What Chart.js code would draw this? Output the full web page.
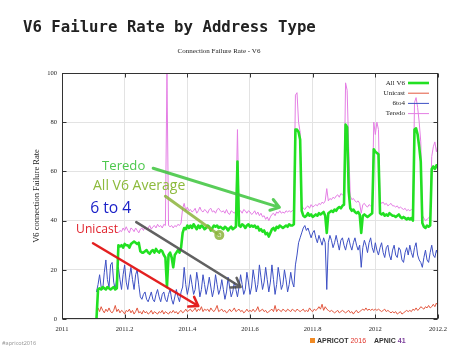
<!DOCTYPE html>
<html>
<head>
<meta charset="utf-8">
<script src="https://cdn.jsdelivr.net/npm/chart.js@4/dist/chart.umd.min.js"></script>
<style>
  html, body { margin: 0; padding: 0; background: #fff; }
  #slide { position: relative; width: 474px; height: 355px; overflow: hidden; }
  #chart { position: absolute; left: 0; top: 0; }
  h1 { position: absolute; left: 23px; top: 19px; margin: 0; font: bold 15.7px "DejaVu Sans Mono", monospace; line-height: 1; color: #222; white-space: nowrap; }
  .tag { position: absolute; left: 2px; top: 339px; font: 5.5px "Noto Sans", sans-serif; color: #999; }
  .logo { position: absolute; top: 337px; font: bold 7px "Liberation Sans", sans-serif; color: #333; white-space: nowrap; }
  .logo .dot { display: inline-block; width: 5px; height: 5px; background: #f08a24; margin-right: 2px; }
</style>
</head>
<body>
<div id="slide">
  <canvas id="chart" width="474" height="355"></canvas>
  <h1>V6 Failure Rate by Address Type</h1>
  <div class="tag">#apricot2016</div>
  <div class="logo" style="left:310px"><span class="dot"></span>APRICOT <span style="color:#e0352b;font-weight:normal">2016</span></div>
  <div class="logo" style="left:374px">APNIC <span style="color:#7a3d9a">41</span></div>
</div>
<script>
// samples every ~1.8 days from 2011.11 to 2012.20
const firstDay = 2011.11;
const dayStep = 0.005;

const allV6 = [
  0, 12, 12.5, 12, 13, 12.5, 12, 13, 12.5, 12,
  12.5, 13, 12, 12.5, 30, 29.5, 30, 29, 30.5, 30,
  30, 29, 30.5, 31, 31.5, 31, 30.5, 31, 27.5, 27,
  27, 27.5, 28, 27, 26.5, 27.5, 28, 27, 28.5, 27.5,
  27, 28, 27.5, 26, 25, 13, 26, 27, 25, 21,
  26, 27, 28, 27, 29, 35, 37, 36.5, 38, 37,
  38, 37, 38.5, 37.5, 36.5, 38, 37, 38, 37.5, 36.5,
  37, 38, 37.5, 36, 37, 38, 37.5, 38, 37, 37.5,
  37, 36.5, 37.5, 37, 36, 37, 37.5, 36.5, 37, 37.5,
  64, 38, 37.5, 38.5, 38, 37, 38, 38.5, 37.5, 38,
  37.5, 38, 37, 37.5, 36, 36.5, 35.5, 36, 34.5, 35,
  33.5, 35, 36.5, 37, 36, 37.5, 37, 38, 37.5, 37,
  37.5, 38, 37.5, 38.5, 38, 38, 38.5, 77, 77, 76,
  73, 44, 42, 41.5, 42, 43, 42, 42.5, 41.5, 42,
  42.5, 42, 43, 42.5, 43, 43.5, 42, 35, 43, 43.5,
  44, 43.5, 44.5, 44, 45, 45.5, 45, 46, 46.5, 79,
  78, 52, 45, 44, 44.5, 43.5, 43, 43.5, 42.5, 35,
  42, 42.5, 42, 41.5, 42, 42.5, 43, 69, 68, 67.5,
  67, 43, 42.5, 43, 42, 42.5, 42, 43, 42.5, 42,
  42, 41.5, 42, 42.5, 41.5, 41, 41.5, 41, 40.5, 41,
  40.5, 41, 40, 77, 77.5, 75, 70, 64, 39, 37.5,
  37, 38, 37.5, 38, 61, 62, 61, 62.5, 61.5
];

const unicast = [
  3.5, 4.5, 3, 5, 3.5, 2.5, 4, 3, 4.5, 3,
  2.5, 3.5, 5.5, 3, 4, 2.5, 3.5, 3, 2, 3.5,
  3, 4, 2.5, 3.5, 2, 3, 4.5, 2.5, 3, 2,
  3.5, 2.5, 3, 2, 2.5, 3.5, 2, 3, 2.5, 2,
  3, 2.5, 3.5, 2, 3, 2.5, 2, 3, 2.5, 3.5,
  2.5, 3, 2, 3, 3.5, 2.5, 3, 4, 3, 3.5,
  4, 3, 3.5, 4.5, 3, 4, 3.5, 5, 3, 4,
  3.5, 4, 3, 4.5, 3.5, 3, 4, 5.5, 3, 3.5,
  4, 3, 3.5, 2.5, 3, 4, 3, 3.5, 4.5, 3,
  3.5, 4, 3, 3.5, 2.5, 3, 4, 3, 3.5, 3,
  4, 3, 3.5, 5, 3, 3.5, 4, 3, 3.5, 2.5,
  3, 3.5, 4, 3, 5.5, 3, 4, 3.5, 3, 4,
  3.5, 3, 4, 3.5, 3, 4, 3.5, 3, 4, 3.5,
  3, 3.5, 4, 3, 3.5, 3, 4.5, 3.5, 3, 4,
  3.5, 4, 5, 4, 6, 3.5, 5, 4, 3.5, 3,
  3.5, 3, 2.5, 3, 3.5, 2.5, 3, 3.5, 3, 2.5,
  3, 3.5, 2.5, 3, 2, 3, 3.5, 2.5, 3, 3.5,
  4, 3.5, 4.5, 3.5, 4, 3.5, 4, 3.5, 4, 3.5,
  4, 3.5, 3, 3.5, 4, 3, 3.5, 3, 2.5, 3,
  2.5, 3, 2, 2.5, 3, 2, 2.5, 3, 3.5, 3,
  3.5, 3, 4, 3.5, 4.5, 3.5, 4, 5, 4.5, 4,
  5, 4.5, 5.5, 4.5, 5, 6, 5, 6.5, 5.5
];

const sixToFour = [
  11, 14, 18, 13, 12, 19, 24, 16, 13, 22,
  23, 15, 12, 17, 21, 16, 12, 18, 22, 15,
  12, 17, 21, 16, 12, 18, 20, 14, 9, 8,
  10, 11, 8, 7, 9, 11, 8, 7, 10, 12,
  9, 7, 10, 11, 8, 7, 10, 12, 8, 6,
  9, 12, 9, 7, 11, 13, 21, 14, 10, 13,
  18, 14, 10, 12, 19, 15, 9, 12, 18, 14,
  10, 13, 17, 13, 9, 12, 18, 14, 10, 12,
  16, 12, 8, 11, 17, 13, 9, 11, 15, 12,
  9, 13, 18, 14, 10, 12, 19, 15, 10, 13,
  20, 16, 11, 14, 22, 17, 12, 15, 21, 16,
  11, 15, 22, 16, 10, 14, 21, 17, 12, 14,
  20, 16, 11, 14, 19, 15, 13, 22, 26, 31,
  33, 35, 37, 38, 36, 37, 35, 33, 35, 36,
  33, 31, 34, 32, 30, 33, 31, 12, 31, 34,
  32, 29, 31, 34, 31, 28, 32, 33, 30, 28,
  31, 33, 30, 28, 31, 33, 30, 28, 30, 21,
  29, 32, 30, 27, 31, 33, 29, 27, 31, 28,
  26, 29, 31, 27, 25, 29, 30, 26, 24, 28,
  30, 26, 25, 29, 28, 24, 23, 27, 29, 26,
  30, 27, 25, 29, 31, 26, 24, 23, 21, 25,
  28, 24, 23, 27, 30, 26, 25, 28, 26
];

const teredo = [
  null, null, null, null, null, null, null, null, null, null,
  null, null, null, null, 35, 36, 35.5, 37, 36, 37.5,
  36, 35, 37, 36.5, 35.5, 37, 36, 35, 36.5, 37,
  36, 37.5, 36.5, 37, 38, 36.5, 37.5, 38, 37, 38.5,
  37.5, 38, 37, 38.5, 38, 100, 38, 37.5, 38, 37,
  38, 37.5, 38.5, 38, 39, 45, 47, 44, 45.5, 44,
  44.5, 43.5, 44, 45, 43, 44, 45.5, 44, 43.5, 44.5,
  44, 43, 44.5, 45, 43.5, 44, 43, 44.5, 45, 44,
  43.5, 44, 43, 44.5, 43, 42.5, 44, 43.5, 43, 44,
  77, 43.5, 44, 43, 44.5, 44, 43, 44, 43.5, 42.5,
  43, 44, 42.5, 43.5, 42, 43, 41.5, 42, 40.5, 41.5,
  40, 41.5, 42.5, 43, 42, 43.5, 43, 44, 43, 43.5,
  43, 44, 43.5, 44, 43.5, 44, 44.5, 91, 92, 80,
  76, 46, 45, 44.5, 45.5, 46, 45, 46.5, 45.5, 46,
  46.5, 46, 47, 46.5, 47.5, 47, 48, 53, 48, 49,
  48.5, 49.5, 49, 50, 50.5, 49.5, 51, 50.5, 51, 96,
  93, 70, 50, 48.5, 49, 48, 47.5, 48, 47, 43,
  46.5, 47, 46, 45.5, 46.5, 46, 46.5, 80, 75, 80,
  77, 48, 47, 47.5, 46.5, 47, 46, 46.5, 47, 46,
  46, 45.5, 46, 45, 45.5, 45, 44.5, 45, 44, 44.5,
  44, 44.5, 44, 88, 90, 86, 80, 72, 42, 41,
  40, 40.5, 41, 42, 66, 70, 72, 68, 71
];

const dates = allV6.map((_, i) => firstDay + i * dayStep);

const xTicks = [2011, 2011.2, 2011.4, 2011.6, 2011.8, 2012, 2012.2];
const xTickLabels = ['2011', '2011.2', '2011.4', '2011.6', '2011.8', '2012', '2012.2'];
const yTicks = [0, 20, 40, 60, 80, 100];

// hand-drawn notes on the slide, placed in data units (year, rate)
const notes = [
  { text: 'Teredo', x0: 2011.128, x1: 2011.266, y: 62.1, color: '#4cc84c' },
  { text: 'All V6 Average', x0: 2011.099, x1: 2011.394, y: 54.0, color: '#8cba3c' },
  { text: '6 to 4', x0: 2011.090, x1: 2011.221, y: 45.0, color: '#1c22c8' },
  { text: 'Unicast', x0: 2011.045, x1: 2011.179, y: 36.5, color: '#e0222c' }
];
const strokes = [
  { from: [2011.291, 61.3], to: [2011.694, 45.4], color: 'rgba(60,196,60,0.85)', width: 3, end: 'arrow' },
  { from: [2011.330, 49.9], to: [2011.502, 34.1], color: 'rgba(140,180,60,0.85)', width: 3, end: 'dot' },
  { from: [2011.237, 39.4], to: [2011.570, 13.0], color: 'rgba(80,80,80,0.9)', width: 2.5, end: 'arrow' },
  { from: [2011.099, 30.8], to: [2011.435, 5.3], color: 'rgba(226,20,20,0.95)', width: 2.5, end: 'arrow' }
];

const serif = '"Liberation Serif", "Times New Roman", serif';

function series(values) {
  return values.map((v, i) => ({ x: dates[i], y: v }));
}

const framePlugin = {
  id: 'frame',
  afterDatasetsDraw(chart) {
    const { ctx, chartArea: a, scales: { x, y } } = chart;
    ctx.save();
    ctx.strokeStyle = '#333';
    ctx.lineWidth = 1;
    const l = Math.round(a.left) + 0.5, r = Math.round(a.right) - 0.5;
    const t = Math.round(a.top) + 0.5, b = Math.round(a.bottom) - 0.5;
    ctx.strokeRect(l, t, r - l, b - t);
    ctx.beginPath();
    xTicks.forEach(v => {
      const px = Math.round(x.getPixelForValue(v)) + 0.5;
      ctx.moveTo(px, b); ctx.lineTo(px, b - 4);
      ctx.moveTo(px, t); ctx.lineTo(px, t + 4);
    });
    yTicks.forEach(v => {
      const py = Math.round(y.getPixelForValue(v)) + 0.5;
      ctx.moveTo(l, py); ctx.lineTo(l + 4, py);
      ctx.moveTo(r, py); ctx.lineTo(r - 4, py);
    });
    ctx.stroke();

    // key, gnuplot style: label right aligned, sample to its right
    ctx.font = '7px ' + serif;
    ctx.textAlign = 'right';
    ctx.textBaseline = 'middle';
    chart.data.datasets.forEach((ds, i) => {
      const rowY = a.top + 10 + i * 10.2;
      ctx.fillStyle = '#222';
      ctx.fillText(ds.label, a.right - 33, rowY);
      ctx.strokeStyle = ds.borderColor;
      ctx.lineWidth = ds.borderWidth;
      ctx.beginPath();
      ctx.moveTo(a.right - 30, rowY);
      ctx.lineTo(a.right - 9, rowY);
      ctx.stroke();
    });
    ctx.restore();
  }
};

const notesPlugin = {
  id: 'notes',
  afterDraw(chart) {
    const { ctx, scales: { x, y } } = chart;
    ctx.save();
    ctx.lineCap = 'round';
    ctx.lineJoin = 'round';
    strokes.forEach(s => {
      const x0 = x.getPixelForValue(s.from[0]), y0 = y.getPixelForValue(s.from[1]);
      const x1 = x.getPixelForValue(s.to[0]), y1 = y.getPixelForValue(s.to[1]);
      ctx.strokeStyle = s.color;
      ctx.lineWidth = s.width;
      ctx.beginPath();
      ctx.moveTo(x0, y0);
      ctx.lineTo(x1, y1);
      if (s.end === 'arrow') {
        const ang = Math.atan2(y1 - y0, x1 - x0);
        const len = 10;
        ctx.moveTo(x1 - len * Math.cos(ang - 0.6), y1 - len * Math.sin(ang - 0.6));
        ctx.lineTo(x1, y1);
        ctx.lineTo(x1 - len * Math.cos(ang + 0.6), y1 - len * Math.sin(ang + 0.6));
      }
      ctx.stroke();
      if (s.end === 'dot') {
        ctx.beginPath();
        ctx.arc(x1, y1, 3.5, 0, Math.PI * 2);
        ctx.stroke();
      }
    });
    ctx.textBaseline = 'middle';
    ctx.textAlign = 'left';
    notes.forEach(n => {
      const left = x.getPixelForValue(n.x0);
      const width = x.getPixelForValue(n.x1) - left;
      ctx.font = '20px "Open Sans", sans-serif';
      const size = 20 * width / ctx.measureText(n.text).width;
      ctx.font = size.toFixed(1) + 'px "Open Sans", sans-serif';
      ctx.fillStyle = n.color;
      ctx.fillText(n.text, left, y.getPixelForValue(n.y));
    });
    ctx.restore();
  }
};

const line = { pointRadius: 0, tension: 0, fill: false, spanGaps: false, borderJoinStyle: 'round' };

new Chart(document.getElementById('chart'), {
  type: 'line',
  data: {
    datasets: [
      { ...line, label: 'All V6', data: series(allV6), borderColor: '#22e022', borderWidth: 2.6, order: 0 },
      { ...line, label: 'Unicast', data: series(unicast), borderColor: '#e2573f', borderWidth: 1, order: 1 },
      { ...line, label: '6to4', data: series(sixToFour), borderColor: '#3d50c4', borderWidth: 1, order: 2 },
      { ...line, label: 'Teredo', data: series(teredo), borderColor: '#e47ee4', borderWidth: 1, order: 3 }
    ]
  },
  options: {
    responsive: false,
    animation: false,
    events: [],
    layout: { padding: { left: 0, right: 36, top: 0, bottom: 16 } },
    plugins: {
      legend: { display: false },
      tooltip: { enabled: false },
      title: {
        display: true,
        text: 'Connection Failure Rate - V6',
        color: '#222',
        font: { family: serif, size: 7, weight: 'normal', lineHeight: 1.2 },
        padding: { top: 46.8, bottom: 17.8 }
      }
    },
    scales: {
      x: {
        type: 'linear',
        min: 2011,
        max: 2012.2,
        afterBuildTicks: s => { s.ticks = xTicks.map(v => ({ value: v })); },
        afterFit: s => { s.height = 20; },
        ticks: {
          padding: 6,
          maxRotation: 0,
          autoSkip: false,
          color: '#222',
          font: { family: serif, size: 6.5 },
          callback: (v, i) => xTickLabels[i]
        },
        grid: { color: '#e3e3e3', drawTicks: false },
        border: { display: false }
      },
      y: {
        min: 0,
        max: 100,
        afterBuildTicks: s => { s.ticks = yTicks.map(v => ({ value: v })); },
        afterFit: s => { s.width = 62; },
        ticks: {
          padding: 5,
          color: '#222',
          font: { family: serif, size: 6.5 },
          callback: v => String(v)
        },
        title: {
          display: true,
          text: 'V6 connection Failure Rate',
          color: '#222',
          font: { family: serif, size: 8.5, lineHeight: 1.2 },
          padding: { top: 31.9, bottom: 0 }
        },
        grid: { color: '#e3e3e3', drawTicks: false },
        border: { display: false }
      }
    }
  },
  plugins: [framePlugin, notesPlugin]
});
</script>
</body>
</html>
